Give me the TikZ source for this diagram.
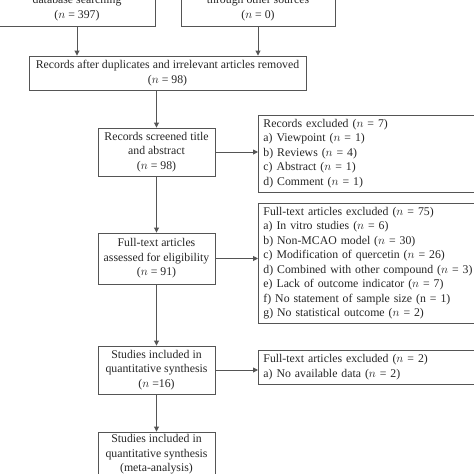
\documentclass[tikz,border=0pt]{standalone}
\usepackage{fontspec}
\setmainfont{Liberation Serif}
\usetikzlibrary{arrows.meta}
\definecolor{linegray}{HTML}{555555}
\definecolor{txt}{HTML}{262626}
\begin{document}
\begin{tikzpicture}[x=1pt,y=-1pt,
  every node/.style={font=\fontsize{11.8}{14.5}\selectfont, text=txt},
  cbox/.style={draw=linegray, line width=0.9pt, inner sep=0pt, align=center},
  lbox/.style={draw=linegray, line width=0.9pt, inner xsep=5pt, inner ysep=0pt, align=left, anchor=west, text width=230pt},
  arr/.style={draw=linegray, line width=0.9pt, -{Triangle[length=5pt,width=5pt]}}]
\useasboundingbox (0,0) rectangle (474,474);
\clip (0,0) rectangle (474,474);
% top boxes
\node[cbox, minimum width=156pt, minimum height=36pt] (tl) at (77,8) {database searching\\($n$ = 397)};
\node[cbox, minimum width=154pt, minimum height=36pt] (tr) at (258,8) {through other sources\\($n$ = 0)};
% records after duplicates
\node[cbox, minimum width=277pt, minimum height=34pt] (ra) at (167.5,73) {Records after duplicates and irrelevant articles removed\\($n$ = 98)};
% left column
\node[cbox, minimum width=117pt, minimum height=48pt] (b2) at (156.5,152) {Records screened title\\and abstract\\($n$ = 98)};
\node[cbox, minimum width=117pt, minimum height=51pt] (b3) at (156.5,258.5) {Full-text articles\\assessed for eligibility\\($n$ = 91)};
\node[cbox, minimum width=117pt, minimum height=48pt] (b4) at (156.5,370) {Studies included in\\quantitative synthesis\\($n$ =16)};
\node[cbox, minimum width=117pt, minimum height=60pt] (b5) at (156.5,462) {Studies included in\\quantitative synthesis\\(meta-analysis)\\[3pt]};
% right column
\node[lbox, minimum height=77pt] (e1) at (258,153.5) {Records excluded ($n$ = 7)\\a) Viewpoint ($n$ = 1)\\b) Reviews ($n$ = 4)\\c) Abstract ($n$ = 1)\\d) Comment ($n$ = 1)};
\node[lbox, minimum height=120pt] (e2) at (258,263) {Full-text articles excluded ($n$ = 75)\\a) In vitro studies ($n$ = 6)\\b) Non-MCAO model ($n$ = 30)\\c) Modification of quercetin ($n$ = 26)\\d) Combined with other compound ($n$ = 3)\\e) Lack of outcome indicator ($n$ = 7)\\f) No statement of sample size (n = 1)\\g) No statistical outcome ($n$ = 2)};
\node[lbox, minimum height=34pt] (e3) at (258,367) {Full-text articles excluded ($n$ = 2)\\a) No available data ($n$ = 2)};
% connectors
\draw[arr] (tl.south) -- (tl.south |- ra.north);
\draw[arr] (tr.south) -- (tr.south |- ra.north);
\draw[arr] (b2.north |- ra.south) -- (b2.north);
\draw[arr] (b2.south) -- (b3.north);
\draw[arr] (b3.south) -- (b4.north);
\draw[arr] (b4.south) -- (b5.north);
\draw[arr] (b2.east) -- (b2.east -| e1.west);
\draw[arr] (b3.east) -- (b3.east -| e2.west);
\draw[arr] (b4.east) -- (b4.east -| e3.west);
\end{tikzpicture}
\end{document}
